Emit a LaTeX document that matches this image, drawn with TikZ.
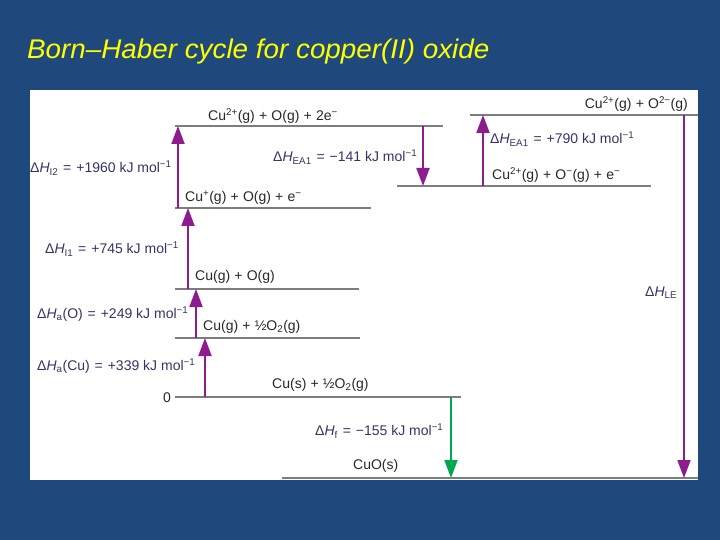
\documentclass[tikz,border=0pt]{standalone}
\usepackage{fontspec}
\setmainfont{Liberation Sans}
\usetikzlibrary{arrows.meta}
\definecolor{bgblue}{RGB}{31,73,125}
\definecolor{ttl}{RGB}{255,255,0}
\definecolor{lvl}{RGB}{125,125,125}
\definecolor{purp}{RGB}{142,28,142}
\definecolor{grn}{RGB}{0,168,80}
\definecolor{lab}{RGB}{52,52,105}
\definecolor{spc}{RGB}{40,40,40}
\newcommand{\dH}[1]{Δ\textit{H}\textsubscript{#1}}
\newcommand{\eq}{\hspace{0.35em}=\hspace{0.35em}}
\newcommand{\pl}{\hspace{0.3em}+\hspace{0.3em}}
\newcommand{\kj}{kJ mol\textsuperscript{−1}}
\begin{document}
\begin{tikzpicture}[x=1pt,y=-1pt,
  level/.style={draw=lvl,line width=1.5pt},
  arr/.style={draw=purp,line width=2pt,-{Triangle[width=13pt,length=18pt]}},
  arrg/.style={draw=grn,line width=2pt,-{Triangle[width=13pt,length=18pt]}},
  spec/.style={inner sep=0pt,text=spc,font=\fontsize{14}{16}\selectfont},
  lbl/.style={inner sep=0pt,text=lab,font=\fontsize{14}{16}\selectfont}]
\fill[bgblue] (0,0) rectangle (720,540);
\useasboundingbox (0,0) rectangle (720,540);
\fill[white] (30,90) rectangle (698,480);
\node[anchor=base west,inner sep=0pt,text=ttl,font=\fontsize{27}{32}\selectfont\itshape] (title) at (27,59) {\scalebox{1.03}[1]{Born–Haber cycle for copper(II) oxide}};
% levels
\draw[level] (470,115) coordinate (Lt1) -- (698,115) coordinate (Lt2);
\draw[level] (175,126) coordinate (Lc1) -- (443,126) coordinate (Lc2);
\draw[level] (397,186) coordinate (Le1) -- (651,186) coordinate (Le2);
\draw[level] (175,208) coordinate (Li1) -- (371,208) coordinate (Li2);
\draw[level] (175,289) coordinate (Lg1) -- (359,289) coordinate (Lg2);
\draw[level] (175,338) coordinate (Lh1) -- (360,338) coordinate (Lh2);
\draw[level] (175,397) coordinate (Lz1) -- (461,397) coordinate (Lz2);
\draw[level] (282,478) coordinate (Lo1) -- (698,478) coordinate (Lo2);
% arrow endpoints
\coordinate (aCu0) at (205,397); \coordinate (aCu1) at (205,338);
\coordinate (aO0) at (196,338); \coordinate (aO1) at (196,289);
\coordinate (i10) at (188,289); \coordinate (i11) at (188,208);
\coordinate (i20) at (178,208); \coordinate (i21) at (178,126);
\coordinate (e10) at (423,126); \coordinate (e11) at (423,186);
\coordinate (e20) at (483,186); \coordinate (e21) at (483,115);
\coordinate (le0) at (684,115); \coordinate (le1) at (684,478);
\coordinate (f0) at (451,397); \coordinate (f1) at (451,478);
\draw[arr] (aCu0) -- (aCu1);
\draw[arr] (aO0) -- (aO1);
\draw[arr] (i10) -- (i11);
\draw[arr] (i20) -- (i21);
\draw[arr] (e10) -- (e11);
\draw[arr] (e20) -- (e21);
\draw[arr] (le0) -- (le1);
\draw[arrg] (f0) -- (f1);
% species
\node[spec,anchor=west] (s1) at (208,116) {Cu\textsuperscript{2+}(g)\pl O(g)\pl 2e\textsuperscript{−}};
\node[spec,anchor=west] (s2) at (185,198) {Cu\textsuperscript{+}(g)\pl O(g)\pl e\textsuperscript{−}};
\node[spec,anchor=east] (s3) at (688,104) {Cu\textsuperscript{2+}(g)\pl O\textsuperscript{2−}(g)};
\node[spec,anchor=west] (s4) at (492,175) {Cu\textsuperscript{2+}(g)\pl O\textsuperscript{−}(g)\pl e\textsuperscript{−}};
\node[spec,anchor=west] (s5) at (195,277) {Cu(g)\pl O(g)};
\node[spec,anchor=west] (s6) at (203,327) {Cu(g)\pl ½O\textsubscript{2}(g)};
\node[spec,anchor=west] (s7) at (272,385) {Cu(s)\pl ½O\textsubscript{2}(g)};
\node[spec,anchor=east] (s8) at (171,398) {0};
\node[spec,anchor=west] (s9) at (353,466) {CuO(s)};
% labels
\node[lbl,anchor=west] (l1) at (273,157) {\dH{EA1}\eq −141 \kj};
\node[lbl,anchor=west] (l2) at (30,168) {\dH{I2}\eq +1960 \kj};
\node[lbl,anchor=west] (l3) at (490,139) {\dH{EA1}\eq +790 \kj};
\node[lbl,anchor=west] (l4) at (45,249) {\dH{I1}\eq +745 \kj};
\node[lbl,anchor=west] (l5) at (37,314) {\dH{a}(O)\eq +249 \kj};
\node[lbl,anchor=west] (l6) at (37,366) {\dH{a}(Cu)\eq +339 \kj};
\node[lbl,anchor=west] (l7) at (315,431) {\dH{f}\eq −155 \kj};
\node[lbl,anchor=west] (l8) at (645,293) {\dH{LE}};
\end{tikzpicture}
\end{document}
